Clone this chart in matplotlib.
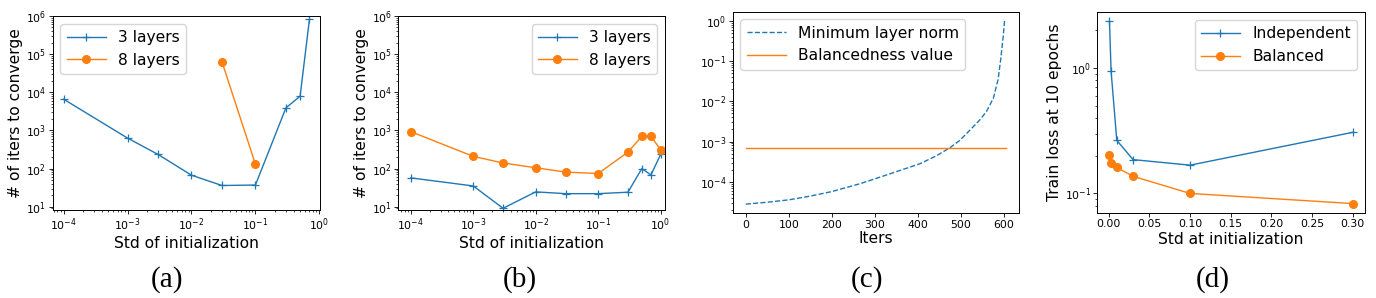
import matplotlib
matplotlib.use("Agg")
import matplotlib.pyplot as plt

# (a) iterations to converge vs init std
a_x3 = [1e-4, 1e-3, 3e-3, 1e-2, 3e-2, 1e-1, 3e-1, 5e-1, 7e-1]
a_y3 = [6600, 630, 235, 67, 36, 37, 3900, 7900, 8.2e5]
a_x8 = [3e-2, 1e-1]
a_y8 = [6.3e4, 130]

# (b)
b_x = [1e-4, 1e-3, 3e-3, 1e-2, 3e-2, 1e-1, 3e-1, 5e-1, 7e-1, 1.0]
b_y3 = [57, 35, 9.1, 24.5, 22, 22, 24, 100, 68, 235]
b_y8 = [930, 209, 140, 105, 81, 74, 270, 700, 710, 307]

# (c) minimum layer norm vs iterations
c_it = [0, 50, 100, 150, 200, 265, 312, 358, 405, 443, 474, 498, 521, 544,
        560, 576, 587, 593, 599, 602]
c_norm = [2.78e-5, 3.1e-5, 3.55e-5, 4.4e-5, 5.7e-5, 8.9e-5, 1.3e-4, 1.9e-4,
          2.8e-4, 4.4e-4, 6.9e-4, 1.07e-3, 1.9e-3, 3.4e-3, 5.6e-3, 1.2e-2,
          3.5e-2, 0.11, 0.42, 1.0]
c_bal_x = [0, 606]
c_bal_y = [7.1e-4, 7.1e-4]

# (d) train loss at 10 epochs
d_x = [0.001, 0.003, 0.01, 0.03, 0.1, 0.3]
d_ind = [2.35, 0.94, 0.265, 0.186, 0.168, 0.307]
d_bal = [0.201, 0.175, 0.161, 0.137, 0.100, 0.083]

blue = "#1f77b4"
orange = "#ff7f0e"
LBL = 11.2
TCK = 7.8

W, H = 1376, 298
fig = plt.figure(figsize=(W / 100, H / 100), dpi=100)


def box(l, r, t, b):
    return [l / W, (H - b) / H, (r - l) / W, (b - t) / H]


def style(ax):
    ax.tick_params(which="major", labelsize=TCK, length=2.6, width=0.6, pad=2)
    ax.tick_params(which="minor", length=1.5, width=0.5)
    for s in ax.spines.values():
        s.set_linewidth(0.7)


line_kw = dict(lw=1.0)
plus_kw = dict(marker="+", ms=6, mew=0.9)
dot_kw = dict(marker="o", ms=5.5)

# ---- (a)
ax = fig.add_axes(box(52.7, 320, 16, 210))
ax.plot(a_x3, a_y3, color=blue, label="3 layers", **line_kw, **plus_kw)
ax.plot(a_x8, a_y8, color=orange, label="8 layers", **line_kw, **dot_kw)
ax.set_xscale("log")
ax.set_yscale("log")
ax.set_xlim(10 ** -4.17, 10 ** 0.01)
ax.set_ylim(8.2, 1e6)
ax.set_xlabel("Std of initialization", fontsize=LBL, labelpad=2)
ax.set_ylabel("# of iters to converge", fontsize=LBL, labelpad=2)
ax.legend(loc="upper left", fontsize=LBL, handlelength=2.5)
style(ax)

# ---- (b)
ax = fig.add_axes(box(398.3, 665, 16, 210))
ax.plot(b_x, b_y3, color=blue, label="3 layers", **line_kw, **plus_kw)
ax.plot(b_x, b_y8, color=orange, label="8 layers", **line_kw, **dot_kw)
ax.set_xscale("log")
ax.set_yscale("log")
ax.set_xlim(10 ** -4.2, 10 ** 0.07)
ax.set_ylim(8.2, 1e6)
ax.set_xlabel("Std of initialization", fontsize=LBL, labelpad=2)
ax.set_ylabel("# of iters to converge", fontsize=LBL, labelpad=2)
ax.legend(loc="upper right", fontsize=LBL, handlelength=2.5)
style(ax)

# ---- (c)
ax = fig.add_axes(box(732.7, 1019.3, 11.7, 213.3))
ax.plot(c_it, c_norm, "--", color=blue, lw=1.0, label="Minimum layer norm")
ax.plot(c_bal_x, c_bal_y, "-", color=orange, lw=1.0, label="Balancedness value")
ax.set_yscale("log")
ax.set_xlabel("Iters", fontsize=LBL, labelpad=1)
ax.set_xticks([0, 100, 200, 300, 400, 500, 600])
ax.legend(loc="upper left", fontsize=LBL, handlelength=2.5)
style(ax)

# ---- (d)
ax = fig.add_axes(box(1097.3, 1365, 12.3, 212.7))
ax.plot(d_x, d_ind, color=blue, label="Independent", **line_kw, **plus_kw)
ax.plot(d_x, d_bal, color=orange, label="Balanced", **line_kw, **dot_kw)
ax.set_yscale("log")
ax.set_xticks([0, 0.05, 0.1, 0.15, 0.2, 0.25, 0.3])
ax.set_xlabel("Std at initialization", fontsize=LBL, labelpad=2)
ax.set_ylabel("Train loss at 10 epochs", fontsize=LBL, labelpad=2)
ax.legend(loc="upper right", fontsize=LBL, handlelength=2.5)
style(ax)

# captions
for x, t in [(167, "(a)"), (520, "(b)"), (867, "(c)"), (1213, "(d)")]:
    fig.text(x / W, (H - 280) / H, t, ha="center", va="center",
             fontsize=21, family="Liberation Serif")

fig.savefig("out.png", dpi=100, facecolor="white")
